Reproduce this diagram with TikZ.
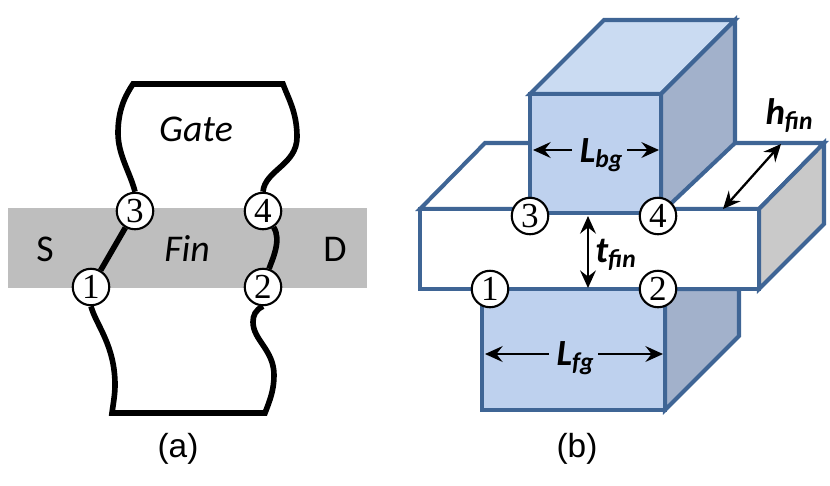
\documentclass[tikz,border=0pt]{standalone}
\usepackage{fontspec}
\setmainfont{Carlito}
\newfontfamily\capfont{Liberation Sans}
\newfontfamily\numfont{Liberation Serif}
\usetikzlibrary{arrows.meta,backgrounds}
\definecolor{edgeblue}{HTML}{3F6595}
\definecolor{frontblue}{HTML}{BED1EE}
\definecolor{topblue}{HTML}{CADBF2}
\definecolor{sideblue}{HTML}{A2B1CB}
\definecolor{finside}{HTML}{C9C9C9}
\definecolor{fingrey}{HTML}{BEBEBE}
\newcommand{\dimlabel}[2]{{\fontsize{21}{21}\selectfont #1}\raisebox{-.65ex}{\fontsize{14.5}{14.5}\selectfont #2}}
\tikzset{
	numcircle/.style={circle,draw=black,fill=white,line width=1.2pt,minimum size=.73cm,inner sep=0pt,font=\numfont\fontsize{20}{20}\selectfont},
	gateline/.style={line width=3.2pt,black,line join=miter},
	face/.style={draw=edgeblue,line width=2.3pt,line join=miter},
	dimarrow/.style={black,line width=1.3pt,-{Stealth[length=10pt,width=9pt,inset=3.5pt]}},
	dimboth/.style={dimarrow,{Stealth[length=10pt,width=9pt,inset=3.5pt]}-{Stealth[length=10pt,width=9pt,inset=3.5pt]}},
	bigtext/.style={font=\fontsize{21.5}{21.5}\selectfont,inner sep=0pt},
	dimtext/.style={font=\bfseries\itshape,inner sep=0pt},
	captext/.style={font=\capfont\fontsize{19}{19}\selectfont,inner sep=0pt}
}
\begin{document}
\begin{tikzpicture}[x=.02cm,y=-.02cm]
	\useasboundingbox (0,0) rectangle (830,485);
	% Part (a)
	\node[numcircle] (a3) at (135,211) {3};
	\node[numcircle] (a4) at (263,211) {4};
	\node[numcircle] (a1) at (91,287) {1};
	\node[numcircle] (a2) at (263,287) {2};
	\coordinate (TL) at (133,84);
	\coordinate (TR) at (283,84);
	\coordinate (BL) at (112,413);
	\coordinate (BR) at (265,413);
	\begin{pgfonlayer}{background}
	\fill[fingrey] (8,208) rectangle (367,288);% Fin
	\draw[gateline] (a3.north) .. controls (130,172) and (118,155) .. (118,133) .. controls (118,110) and (125,96) .. (TL) -- (TR) .. controls (288,98) and (297,112) .. (297,137) .. controls (297,165) and (265,170) .. (a4.north);% Gate top
	\draw[gateline] (a1.south) .. controls (96,325) and (115,345) .. (115,385) .. controls (115,395) and (113,405) .. (BL) -- (BR) .. controls (270,400) and (274,390) .. (274,375) .. controls (274,350) and (253,340) .. (253,322) .. controls (253,316) and (255,310) .. (a2.south);% Gate bottom
	\draw[gateline] (a1) -- (a3);% Left edge on the fin
	\draw[gateline] (a4) .. controls (282,240) and (272,260) .. (a2);% Right edge on the fin
	\end{pgfonlayer}
	\node[bigtext] (gatetext) at (196,129) {\itshape Gate};
	\node[bigtext] (fintext) at (187,248) {\itshape Fin};
	\node[bigtext] (stext) at (45,249) {S};
	\node[bigtext] (dtext) at (335,249) {D};
	\node[captext] (captiona) at (178,449) {(a)};
	% Part (b)
	\coordinate (A) at (482,289);
	\coordinate (B) at (665,289);
	\coordinate (C) at (665,410);
	\coordinate (D) at (482,410);
	\coordinate (E) at (739,289);
	\coordinate (F) at (739,336);
	\draw[face,fill=sideblue] (B) -- (E) -- (F) -- (C) -- cycle;% Right Face
	\draw[face,fill=frontblue] (A) -- (B) -- (C) -- (D) -- cycle;% Front Face
	\coordinate (G) at (420,209);
	\coordinate (H) at (759,209);
	\coordinate (I) at (759,289);
	\coordinate (J) at (420,289);
	\coordinate (K) at (485,143);
	\coordinate (M) at (824,143);
	\coordinate (N) at (824,224);
	\draw[face,fill=white] (G) -- (K) -- (M) -- (H) -- cycle;% Top Face
	\draw[face,fill=finside] (H) -- (M) -- (N) -- (I) -- cycle;% Right Face
	\draw[face,fill=white] (G) -- (H) -- (I) -- (J) -- cycle;% Front Face
	\coordinate (P) at (530,94);
	\coordinate (Q) at (661,94);
	\coordinate (R) at (661,213);
	\coordinate (S) at (530,213);
	\coordinate (T) at (604,20);
	\coordinate (U) at (735,20);
	\coordinate (V) at (735,143);
	\draw[face,fill=topblue] (P) -- (T) -- (U) -- (Q) -- cycle;% Top Face
	\draw[face,fill=sideblue] (Q) -- (U) -- (V) -- (R) -- cycle;% Right Face
	\draw[face,fill=frontblue] (P) -- (Q) -- (R) -- (S) -- cycle;% Front Face
	\node[numcircle] (b3) at (530,216) {3};
	\node[numcircle] (b4) at (658,216) {4};
	\node[numcircle] (b1) at (490,289) {1};
	\node[numcircle] (b2) at (658,289) {2};
	% Dimensions
	\node[dimtext,anchor=base] (lbg) at (601,162) {\dimlabel{L}{bg}};
	\node[dimtext,anchor=base] (lfg) at (575,365) {\dimlabel{L}{fg}};
	\node[dimtext,anchor=base west] (tfin) at (595,262) {\dimlabel{t}{fin}};
	\node[dimtext,anchor=base] (hfin) at (789,124) {\dimlabel{h}{fin}};
	\coordinate (lbgleft) at (533,150);
	\coordinate (lbgright) at (659,150);
	\coordinate (lfgleft) at (485,354);
	\coordinate (lfgright) at (663,354);
	\coordinate (tfintop) at (588,216);
	\coordinate (tfinbot) at (588,288);
	\coordinate (hfintop) at (781,144);
	\coordinate (hfinbot) at (723,209);
	\draw[dimarrow] (572,150) -- (lbgleft);
	\draw[dimarrow] (627,150) -- (lbgright);
	\draw[dimarrow] (549,354) -- (lfgleft);
	\draw[dimarrow] (598,354) -- (lfgright);
	\draw[dimboth] (tfintop) -- (tfinbot);
	\draw[dimboth] (hfintop) -- (hfinbot);
	\node[captext] (captionb) at (577,449) {(b)};
\end{tikzpicture}
\end{document}
